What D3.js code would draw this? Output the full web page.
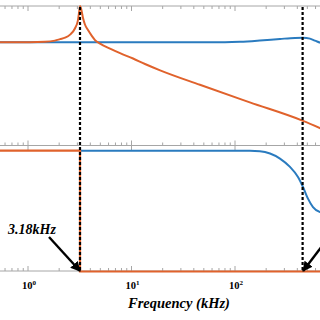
<!DOCTYPE html>
<html>
<head>
<meta charset="utf-8">
<script src="https://cdn.jsdelivr.net/npm/d3@7"></script>
<style>
  html, body { margin: 0; padding: 0; background: #fff; }
  svg { display: block; }
</style>
</head>
<body>
<div id="chart"></div>
<script>
// ---- data ----
const orangeMagFreq = [0.5, 1.05, 1.46, 1.82, 2.04, 2.28, 2.55, 2.84, 3.04, 3.14, 3.19, 3.28, 3.40, 3.55, 3.80, 4.15, 4.44, 4.97, 6.20, 7.75, 10.35, 13.5, 18.9, 45.8, 139, 454, 700];
const orangeMagDb   = [0, 0, 0.2, 0.9, 1.7, 2.5, 4.2, 7.6, 12.2, 17.8, 20, 17.8, 13.4, 9.8, 6.7, 3.4, 1.2, -0.8, -3.5, -6.0, -9.0, -12.0, -15.5, -23.5, -33.2, -43.4, -48];
const blueMagFreq   = [0.5, 10, 80, 112, 174, 272, 380, 454, 530, 590, 662, 700];
const blueMagDb     = [0, 0, 0, 0.2, 0.9, 1.8, 2.4, 2.5, 2.0, 0.9, -0.2, -0.8];
const orangePhaseFreq = [0.5, 3.18, 3.18, 700];
const orangePhaseDeg  = [90, 90, -90, -90];
const bluePhaseFreq = [3.18, 50, 139, 174, 218, 272, 340, 406, 454, 507, 567, 662, 700];
const bluePhaseDeg  = [90, 90, 90, 89.3, 85.8, 78.3, 65.8, 50.9, 35.9, 18.6, 6.0, -1.4, -2];
const markerFreqs  = [3.18, 450];
const markerLabel  = "3.18kHz";
const majorTicks = [0.1, 1, 10, 100, 1000];
const labelTicks = [1, 10, 100];
const tickExponents = ["0", "1", "2"];
const xTitle = "Frequency (kHz)";

// ---- layout ----
const W = 320, H = 320;
const blue = "#2a7bbf", orange = "#e0622c", gridGray = "#a6a6a6";
const top1 = 6, bot1 = 145.5, top2 = 146, bot2 = 271;

const svg = d3.select("#chart").append("svg").attr("width", W).attr("height", H);

const x = d3.scaleLog().domain([1, 100]).range([28, 235]);
const yMag = d3.scaleLinear().domain([-57, 20]).range([bot1, top1]);
const yPh = d3.scaleLinear().domain([-90, 90]).range([bot2 + 0.5, 150.7]);

const defs = svg.append("defs");
defs.append("clipPath").attr("id", "clipTop").append("rect")
  .attr("x", -10).attr("y", top1 - 1).attr("width", W + 20).attr("height", bot1 - top1 + 1);
defs.append("clipPath").attr("id", "clipBot").append("rect")
  .attr("x", -10).attr("y", top2).attr("width", W + 20).attr("height", bot2 - top2 + 3);
defs.append("marker").attr("id", "arrowHead")
  .attr("viewBox", "0 0 10 10").attr("refX", 9).attr("refY", 5)
  .attr("markerWidth", 4.2).attr("markerHeight", 4.2).attr("orient", "auto")
  .attr("markerUnits", "strokeWidth")
  .append("path").attr("d", "M0,0 L10,5 L0,10 Z").attr("fill", "#000");

// minor tick values
const minorTicks = [];
majorTicks.forEach(m => { for (let k = 2; k <= 9; k++) minorTicks.push(m * k); });

function frameLine(y, dir, longUp, longDown) {
  const g = svg.append("g");
  g.append("line").attr("x1", 0).attr("x2", W).attr("y1", y).attr("y2", y)
    .attr("stroke", gridGray).attr("stroke-width", 1);
  g.selectAll("line.minor").data(minorTicks).join("line").attr("class", "minor")
    .attr("x1", d => x(d)).attr("x2", d => x(d))
    .attr("y1", y).attr("y2", y + dir * 3)
    .attr("stroke", gridGray).attr("stroke-width", 1);
  g.selectAll("line.major").data(majorTicks).join("line").attr("class", "major")
    .attr("x1", d => x(d)).attr("x2", d => x(d))
    .attr("y1", y - longUp).attr("y2", y + longDown)
    .attr("stroke", gridGray).attr("stroke-width", 1);
}
frameLine(top1, 1, 0, 5);
frameLine(bot1, -1, 5, 5);
frameLine(bot2, -1, 5, 0);

// ---- series ----
const lineMag = d3.line().x(d => x(d[0])).y(d => yMag(d[1])).curve(d3.curveMonotoneX);
const linePh = d3.line().x(d => x(d[0])).y(d => yPh(d[1])).curve(d3.curveMonotoneX);
const linePhStep = d3.line().x(d => x(d[0])).y(d => yPh(d[1]));

const gTop = svg.append("g").attr("clip-path", "url(#clipTop)");
gTop.append("path").datum(d3.zip(blueMagFreq, blueMagDb))
  .attr("d", lineMag).attr("fill", "none").attr("stroke", blue).attr("stroke-width", 2);
gTop.append("path").datum(d3.zip(orangeMagFreq, orangeMagDb))
  .attr("d", lineMag).attr("fill", "none").attr("stroke", orange).attr("stroke-width", 2);

const gBot = svg.append("g").attr("clip-path", "url(#clipBot)");
gBot.append("path").datum(d3.zip(bluePhaseFreq, bluePhaseDeg))
  .attr("d", linePh).attr("fill", "none").attr("stroke", blue).attr("stroke-width", 2);
gBot.append("path").datum(d3.zip(orangePhaseFreq, orangePhaseDeg))
  .attr("d", linePhStep).attr("fill", "none").attr("stroke", orange).attr("stroke-width", 2.2);

// ---- dashed markers ----
svg.selectAll("line.marker").data(markerFreqs).join("line").attr("class", "marker")
  .attr("x1", d => x(d)).attr("x2", d => x(d))
  .attr("y1", top1 + 1).attr("y2", bot2)
  .attr("stroke", "#000").attr("stroke-width", 2.2).attr("stroke-dasharray", "3,2");

// ---- annotations ----
svg.append("text").attr("x", 8).attr("y", 234)
  .attr("font-family", "Liberation Serif, Times New Roman, serif")
  .attr("font-weight", "bold").attr("font-style", "italic").attr("font-size", 14)
  .text(markerLabel);
svg.append("line").attr("x1", 49).attr("y1", 237)
  .attr("x2", x(markerFreqs[0])).attr("y2", bot2)
  .attr("stroke", "#000").attr("stroke-width", 2.4).attr("marker-end", "url(#arrowHead)");
svg.append("line").attr("x1", 322).attr("y1", 246)
  .attr("x2", x(markerFreqs[1]) + 0.5).attr("y2", bot2)
  .attr("stroke", "#000").attr("stroke-width", 2.4).attr("marker-end", "url(#arrowHead)");

// ---- tick labels ----
const tl = svg.selectAll("text.tick").data(d3.zip(labelTicks, tickExponents)).join("text")
  .attr("class", "tick")
  .attr("x", d => x(d[0]) - 6).attr("y", 289)
  .attr("font-family", "Liberation Serif, Times New Roman, serif")
  .attr("font-weight", "bold").attr("font-size", 10.5)
  .attr("text-anchor", "start");
tl.append("tspan").text("10");
tl.append("tspan").attr("dy", -4).attr("font-size", 7).text(d => d[1]);

svg.append("text").attr("x", 179).attr("y", 308)
  .attr("text-anchor", "middle")
  .attr("font-family", "Liberation Serif, Times New Roman, serif")
  .attr("font-weight", "bold").attr("font-style", "italic").attr("font-size", 14.5)
  .text(xTitle);
</script>
</body>
</html>
